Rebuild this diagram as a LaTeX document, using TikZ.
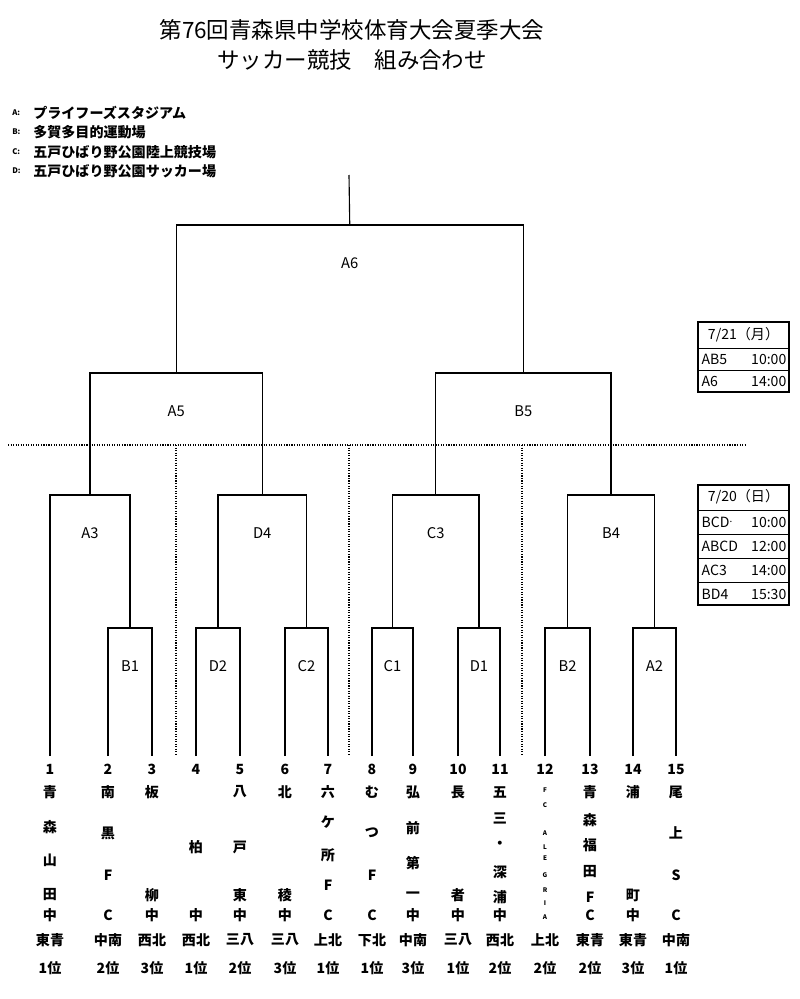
\documentclass[tikz,border=0pt]{standalone}
\usepackage{fontspec}
\setmainfont{Noto Sans CJK JP}
\usetikzlibrary{calc}
\tikzset{
  num/.style={font=\fontsize{10}{10}\selectfont\bfseries},
  nm/.style={font=\fontsize{10}{10}\selectfont\bfseries, inner sep=0pt},
  tiny/.style={font=\fontsize{4.5}{5}\selectfont\bfseries, inner sep=0pt},
  rnd/.style={font=\fontsize{10.5}{10}\selectfont},
  tab/.style={font=\fontsize{10}{10}\selectfont, inner sep=1pt},
  leg/.style={anchor=west, font=\fontsize{10}{10}\selectfont\bfseries, inner sep=0pt},
  br/.style={line width=0.8pt},
  sep/.style={densely dotted, line width=0.8pt}
}
\begin{document}
\begin{tikzpicture}[x=0.025cm,y=-0.025cm]
\useasboundingbox (0,0) rectangle (800,999);
% title and legend
\node[font=\fontsize{16}{16}\selectfont] (title) at (352,30) {第76回青森県中学校体育大会夏季大会};
\node[font=\fontsize{16}{16}\selectfont] (sub) at (352,60) {サッカー競技\quad 組み合わせ};
\foreach \k/\t/\y in {A/プライフーズスタジアム/113,B/多賀多目的運動場/132,C/五戸ひばり野公園陸上競技場/152,D/五戸ひばり野公園サッカー場/171}{
  \node[leg, font=\fontsize{5.5}{6}\selectfont\bfseries] (key\k) at (12,\y) {\k:};
  \node[leg] (leg\k) at (33,\y) {\t};
}

% teams
\foreach \n/\x in {1/50,2/108,3/152,4/196,5/240,6/285,7/328,8/372,9/413,10/458,11/500,12/545,13/590,14/633,15/676}{
  \coordinate (t\n) at (\x,756);
  \node[num] (n\n) at (\x,769) {\n};
}
% brackets
\foreach \nm/\a/\b/\y in {B1/t2/t3/628,D2/t4/t5/628,C2/t6/t7/628,C1/t8/t9/628,D1/t10/t11/628,B2/t12/t13/628,A2/t14/t15/628,
  A3/t1/B1/495,D4/D2/C2/495,C3/C1/D1/495,B4/B2/A2/495,A5/A3/D4/373,B5/C3/B4/373,A6/A5/B5/225}{
  \draw[br] (\a) -- (\a |- 0,\y) -- (\b |- 0,\y) -- (\b);
  \coordinate (\nm) at ($(\a |- 0,\y)!.5!(\b |- 0,\y)$);
  \node[rnd] (L\nm) at ($(\nm)+(0,38)$) {\nm};
}
\coordinate (win) at (349,175);
\draw[br] (A6) -- (win);
% day boundary
\draw[sep] (8,445) -- (745,445);
\foreach \x in {176,349,522}
  \draw[sep] (\x,445) -- (\x,756);

% school names
\foreach \x/\chars in {
  50/{青/792,森/827,山/860,田/895,中/915},
  108/{南/792,黒/833,F/875,C/915},
  152/{板/792,柳/895,中/915},
  196/{柏/847,中/915},
  240/{八/792,戸/847,東/895,中/915},
  285/{北/792,稜/895,中/915},
  328/{六/792,ケ/822,所/855,F/885,C/915},
  372/{む/792,つ/833,F/875,C/915},
  413/{弘/792,前/828,第/863,一/895,中/915},
  458/{長/792,者/895,中/915},
  500/{五/792,三/818,・/845,深/872,浦/897,中/915},
  590/{青/792,森/820,福/845,田/872,F/897,C/915},
  633/{浦/792,町/895,中/915},
  676/{尾/792,上/833,S/875,C/915}}{
  \foreach \c/\y in \chars
    \node[nm] at (\x,\y) {\c};
}
\foreach \c/\y in {F/790,C/805,A/833,L/847,E/858,G/875,R/890,I/903,A/917}
  \node[tiny] at (545,\y) {\c};
\foreach \n/\r/\k in {1/東青/1,2/中南/2,3/西北/3,4/西北/1,5/三八/2,6/三八/3,7/上北/1,8/下北/1,9/中南/3,10/三八/1,11/西北/2,12/上北/2,13/東青/2,14/東青/3,15/中南/1}{
  \node[nm] (r\n) at (n\n |- 0,940) {\r};
  \node[nm] (k\n) at (n\n |- 0,968) {\k 位};
}

% schedule tables
\draw[line width=0.8pt] (698,322) rectangle (789,392);
\draw (698,348) -- (789,348) (698,370) -- (789,370);
\node[tab] (d1) at (743.5,335) {7/21（月）};
\node[tab, anchor=west] at (700,359) {AB5}; \node[tab, anchor=east] at (788,359) {10:00};
\node[tab, anchor=west] at (700,381) {A6}; \node[tab, anchor=east] at (788,381) {14:00};
\draw[line width=0.8pt] (698,485) rectangle (789,605);
\foreach \y in {510,534,558,582}
  \draw (698,\y) -- (789,\y);
\node[tab] (d2) at (743.5,497) {7/20（日）};
\foreach \g/\t/\y in {BCD\textsuperscript{.}/10:00/522,ABCD/12:00/546,AC3/14:00/570,BD4/15:30/594}{
  \node[tab, anchor=west] at (700,\y) {\g};
  \node[tab, anchor=east] at (788,\y) {\t};
}
\end{tikzpicture}
\end{document}
